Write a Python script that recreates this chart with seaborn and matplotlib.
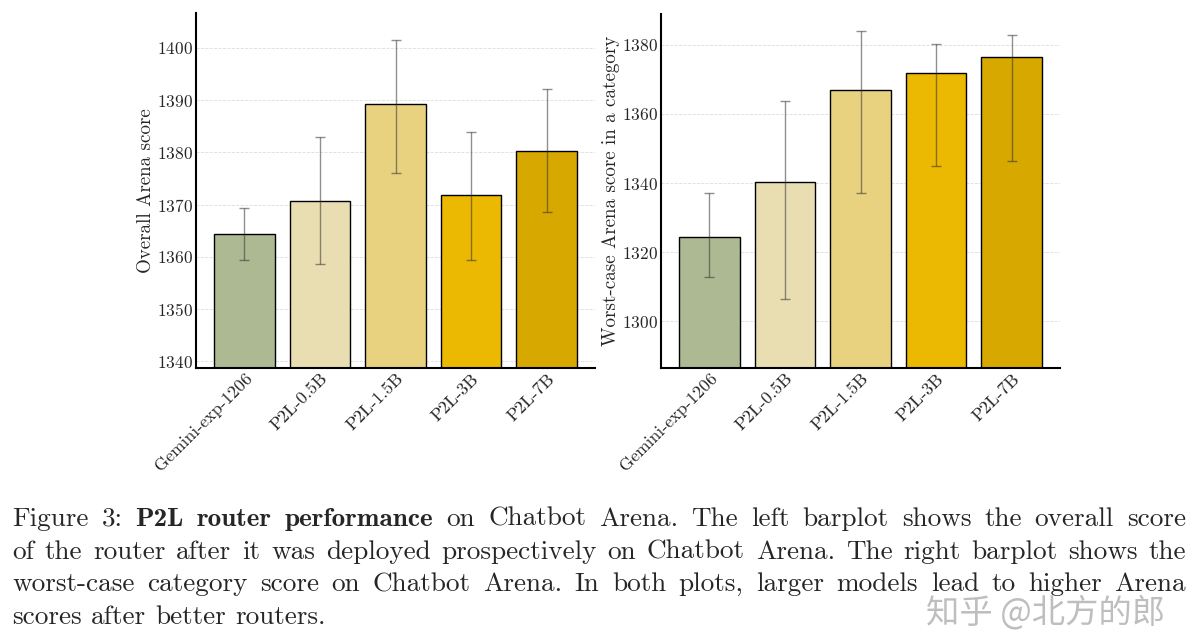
import seaborn as sns
import matplotlib.pyplot as plt
import pandas as pd

models = ['Gemini-exp-1206', 'P2L-0.5B', 'P2L-1.5B', 'P2L-3B', 'P2L-7B']
colors = ['#adb993', '#e8deb2', '#e8d17f', '#ebb802', '#d6a800']

overall = [1364.4, 1370.6, 1389.2, 1371.8, 1380.2]
overall_lo = [1359.3, 1358.6, 1376.0, 1359.3, 1368.5]
overall_hi = [1369.3, 1383.0, 1401.5, 1384.0, 1392.1]

worst = [1324.4, 1340.3, 1366.8, 1371.7, 1376.4]
worst_lo = [1312.7, 1306.5, 1337.2, 1345.0, 1346.5]
worst_hi = [1337.1, 1363.6, 1383.9, 1380.1, 1382.8]

caption = [
    [('Figure 3: ', 'cmr10'), ('P2L router performance', 'cmb10'),
     (' on Chatbot Arena. The left barplot shows the overall score', 'cmr10')],
    [('of the router after it was deployed prospectively on Chatbot Arena. The right barplot shows the', 'cmr10')],
    [('worst-case category score on Chatbot Arena. In both plots, larger models lead to higher Arena', 'cmr10')],
    [('scores after better routers.', 'cmr10')],
]

sns.set_style('white')
plt.rcParams['font.family'] = ['cmr10']
plt.rcParams['axes.formatter.use_mathtext'] = True
plt.rcParams['axes.unicode_minus'] = False

fig = plt.figure(figsize=(11.96, 6.4), dpi=100)
ax1 = fig.add_axes([196 / 1196, 1 - 368 / 640, 399 / 1196, 355 / 640])
ax2 = fig.add_axes([661 / 1196, 1 - 368 / 640, 399 / 1196, 354 / 640])


def draw(ax, vals, lo, hi, ylabel, ylim, ticks):
    df = pd.DataFrame({'model': models, 'score': vals})
    sns.barplot(data=df, x='model', y='score', hue='model', palette=colors,
                saturation=1, legend=False, errorbar=None, width=0.8,
                edgecolor='black', linewidth=1.0, ax=ax)
    yerr = [[v - l for v, l in zip(vals, lo)], [h - v for v, h in zip(vals, hi)]]
    ax.errorbar(range(len(models)), vals, yerr=yerr, fmt='none',
                ecolor='#333333', alpha=0.55, elinewidth=1.0, capsize=3.5,
                capthick=1.0, zorder=5)
    ax.set_xlim(-0.64, len(models) - 0.36)
    ax.set_ylim(*ylim)
    ax.set_yticks(ticks)
    ax.yaxis.grid(True, linestyle='--', color='#dddddd', linewidth=0.6)
    ax.set_axisbelow(True)
    ax.set_xlabel('')
    ax.set_ylabel(ylabel, fontsize=13.7, labelpad=2)
    ax.tick_params(axis='both', length=0, labelsize=12.5, pad=2)
    ax.set_xticks(range(len(models)))
    ax.set_xticklabels(models, rotation=45, ha='right', rotation_mode='anchor',
                       fontsize=12.8)
    for s in ['top', 'right']:
        ax.spines[s].set_visible(False)
    for s in ['left', 'bottom']:
        ax.spines[s].set_color('black')
        ax.spines[s].set_linewidth(1.5)


draw(ax1, overall, overall_lo, overall_hi, 'Overall Arena score',
     (1338.7, 1406.7), [1340, 1350, 1360, 1370, 1380, 1390, 1400])
draw(ax2, worst, worst_lo, worst_hi, 'Worst-case Arena score in a category',
     (1286.5, 1388.9), [1300, 1320, 1340, 1360, 1380])

# caption, set word by word so the first lines are justified
renderer = fig.canvas.get_renderer()
W, H = 1196, 640
left_px, right_px = 12, 1186
cap_size = 19.6


def width_of(word, fam):
    t = fig.text(0, 0, word, fontsize=cap_size, family=fam)
    w = t.get_window_extent(renderer).width
    t.remove()
    return w


space = width_of('a a', 'cmr10') - width_of('aa', 'cmr10')
for i, runs in enumerate(caption):
    y_px = 526 + i * 32.6
    words = []
    for txt, fam in runs:
        for w in txt.split(' '):
            if w:
                words.append((w, fam))
    widths = [width_of(w, f) for w, f in words]
    if i < len(caption) - 1:
        gap = (right_px - left_px - sum(widths)) / (len(words) - 1)
    else:
        gap = space
    x = left_px
    for (w, f), wd in zip(words, widths):
        fig.text(x / W, 1 - y_px / H, w, fontsize=cap_size, family=f,
                 va='baseline', ha='left')
        x += wd + gap

fig.text(1165 / W, 1 - 622 / H, '知乎 @北方的郎', fontsize=24,
         family=['Noto Sans CJK SC', 'DejaVu Sans'], color='#8a8a8a',
         alpha=0.55, ha='right', va='baseline')

fig.savefig('out.png', dpi=100)
